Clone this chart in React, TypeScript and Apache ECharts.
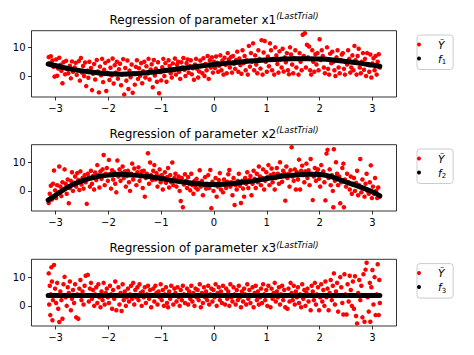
import React, { useEffect, useRef } from "react";
import * as echarts from "echarts";

// ---------- data ----------
const xTicks = [-3, -2, -1, 0, 1, 2, 3];
const yTicks = [0, 10];
const paramNames = ["x1", "x2", "x3"];

// scatter observations  Ỹ  for parameter x1
const obs1: number[][] = [
  [-3.13,6.6],[-3.11,4.5],[-3.09,6.9],[-3.06,5.4],[-3.04,3.2],
  [-3.02,-0.2],[-2.99,5.8],[-2.97,0.1],[-2.95,2.6],[-2.93,6.4],
  [-2.91,3.9],[-2.89,1.8],[-2.87,-2.5],[-2.85,4.8],[-2.82,0.6],
  [-2.8,5.3],[-2.78,2.4],[-2.76,1.0],[-2.73,3.6],[-2.71,-0.8],
  [-2.69,5.1],[-2.67,1.5],[-2.64,3.0],[-2.62,4.6],[-2.6,0.4],
  [-2.58,2.1],[-2.56,5.2],[-2.54,-1.6],[-2.52,6.3],[-2.5,1.2],
  [-2.48,3.5],[-2.46,0.0],[-2.44,4.7],[-2.42,-3.5],[-2.4,1.9],
  [-2.38,-0.6],[-2.36,5.0],[-2.33,2.8],[-2.31,-4.9],[-2.29,0.8],
  [-2.27,4.2],[-2.25,-1.2],[-2.22,5.6],[-2.2,1.6],[-2.18,-5.7],
  [-2.16,3.3],[-2.14,0.3],[-2.12,6.0],[-2.1,-2.1],[-2.08,2.2],
  [-2.06,4.6],[-2.04,-5.2],[-2.02,1.1],[-2.0,5.3],[-1.98,-1.4],
  [-1.96,2.9],[-1.94,0.2],[-1.92,6.1],[-1.9,-2.6],[-1.88,3.8],
  [-1.86,1.2],[-1.84,5.0],[-1.82,-0.9],[-1.8,2.4],[-1.78,4.3],
  [-1.76,-3.2],[-1.74,0.6],[-1.72,5.9],[-1.7,-6.4],[-1.68,2.8],
  [-1.66,-1.6],[-1.64,5.4],[-1.62,-4.5],[-1.6,1.9],[-1.58,-0.4],
  [-1.56,4.0],[-1.54,-5.8],[-1.52,1.0],[-1.5,-3.0],[-1.48,3.2],
  [-1.46,5.5],[-1.44,-1.0],[-1.42,2.7],[-1.4,0.1],[-1.38,4.5],
  [-1.36,-2.5],[-1.34,1.7],[-1.32,5.0],[-1.3,-0.5],[-1.28,3.4],
  [-1.26,0.9],[-1.24,6.0],[-1.22,-1.2],[-1.2,2.3],[-1.18,4.1],
  [-1.16,-3.9],[-1.14,5.6],[-1.12,0.2],[-1.1,2.6],[-1.08,-2.0],
  [-1.06,4.8],[-1.04,-6.0],[-1.02,1.4],[-1.0,-1.5],[-0.98,3.1],
  [-0.96,6.0],[-0.94,0.0],[-0.92,4.5],[-0.9,-2.0],[-0.88,2.0],
  [-0.86,5.5],[-0.84,3.5],[-0.82,1.0],[-0.8,-0.5],[-0.78,4.4],
  [-0.76,2.0],[-0.74,6.1],[-0.72,0.5],[-0.7,3.9],[-0.68,5.0],
  [-0.66,1.5],[-0.64,-1.0],[-0.62,4.8],[-0.6,3.0],[-0.58,6.3],
  [-0.56,2.2],[-0.54,0.0],[-0.52,4.5],[-0.5,5.8],[-0.48,1.2],
  [-0.46,3.4],[-0.44,5.5],[-0.42,0.6],[-0.4,2.7],[-0.38,-1.3],
  [-0.36,4.0],[-0.34,6.0],[-0.32,2.5],[-0.3,-0.5],[-0.28,1.6],
  [-0.26,5.4],[-0.24,3.5],[-0.22,1.0],[-0.2,6.2],[-0.18,0.0],
  [-0.16,4.2],[-0.14,2.0],[-0.12,7.0],[-0.1,-1.0],[-0.08,5.5],
  [-0.06,3.0],[-0.04,6.5],[-0.02,1.2],[0.0,5.0],[0.02,2.8],
  [0.04,6.8],[0.06,4.6],[0.08,1.5],[0.1,3.6],[0.12,7.2],
  [0.14,2.0],[0.16,5.4],[0.18,0.5],[0.2,6.4],[0.22,3.9],
  [0.24,1.0],[0.26,8.0],[0.28,5.8],[0.3,3.0],[0.32,6.6],
  [0.34,1.2],[0.36,7.0],[0.38,4.3],[0.4,2.5],[0.42,5.6],
  [0.44,8.5],[0.46,1.5],[0.48,6.1],[0.5,3.8],[0.52,0.8],
  [0.54,9.0],[0.56,4.5],[0.58,7.0],[0.6,2.0],[0.62,5.5],
  [0.64,0.5],[0.66,10.5],[0.68,3.3],[0.7,8.0],[0.72,5.0],
  [0.74,11.4],[0.76,2.0],[0.78,7.2],[0.8,4.0],[0.82,1.0],
  [0.84,9.0],[0.86,6.0],[0.88,2.6],[0.9,12.5],[0.92,0.5],
  [0.94,8.2],[0.96,12.2],[0.98,5.0],[1.0,1.5],[1.02,6.8],
  [1.04,3.4],[1.06,11.4],[1.08,9.0],[1.1,2.0],[1.12,6.0],
  [1.14,0.5],[1.16,10.0],[1.18,7.2],[1.2,4.2],[1.22,1.2],
  [1.24,8.6],[1.26,5.8],[1.28,3.0],[1.3,9.5],[1.32,1.6],
  [1.34,6.5],[1.36,4.8],[1.38,8.0],[1.4,2.0],[1.42,0.6],
  [1.44,10.0],[1.46,7.5],[1.48,4.0],[1.5,1.0],[1.52,6.2],
  [1.54,9.0],[1.56,3.0],[1.58,6.0],[1.6,0.5],[1.62,8.0],
  [1.64,5.0],[1.66,2.0],[1.68,14.4],[1.7,7.0],[1.72,14.9],
  [1.74,3.0],[1.76,10.9],[1.78,6.5],[1.8,10.3],[1.82,2.0],
  [1.84,0.5],[1.86,9.0],[1.88,5.0],[1.9,1.5],[1.92,7.6],
  [1.94,4.0],[1.96,8.0],[1.98,2.0],[2.0,12.8],[2.02,5.6],
  [2.04,9.0],[2.06,7.0],[2.08,3.0],[2.1,1.0],[2.12,6.0],
  [2.14,10.0],[2.16,2.5],[2.18,0.5],[2.2,7.8],[2.22,4.5],
  [2.24,8.5],[2.26,5.0],[2.28,2.0],[2.3,0.0],[2.32,6.5],
  [2.34,9.0],[2.36,3.0],[2.38,1.0],[2.4,5.6],[2.42,7.5],
  [2.44,8.0],[2.46,2.5],[2.48,0.5],[2.5,5.0],[2.52,4.0],
  [2.54,9.0],[2.56,6.0],[2.58,1.2],[2.6,3.0],[2.62,7.2],
  [2.64,2.0],[2.66,10.5],[2.68,5.5],[2.7,0.5],[2.72,7.0],
  [2.74,9.5],[2.76,3.0],[2.78,1.0],[2.8,5.0],[2.82,8.0],
  [2.84,2.2],[2.86,6.0],[2.88,0.0],[2.9,8.0],[2.92,4.0],
  [2.94,1.5],[2.96,7.5],[2.98,-0.5],[3.0,4.4],[3.02,6.2],
  [3.04,2.0],[3.06,7.0],[3.08,0.5],[3.1,5.0],[3.12,7.6],[3.14,3.0],
];

// scatter observations for parameter x2
const obs2: number[][] = [
  [-3.13,-4.2],[-3.11,-1.0],[-3.09,1.8],[-3.07,-3.0],[-3.05,2.5],
  [-3.03,7.1],[-3.01,0.2],[-2.99,-2.5],[-2.97,2.0],[-2.95,-0.5],
  [-2.93,8.5],[-2.91,1.5],[-2.89,-1.8],[-2.87,3.0],[-2.85,0.5],
  [-2.83,7.5],[-2.81,2.5],[-2.79,-1.0],[-2.77,4.0],[-2.75,-4.3],
  [-2.73,1.0],[-2.71,3.5],[-2.69,6.5],[-2.67,0.0],[-2.65,2.8],
  [-2.63,5.0],[-2.61,1.5],[-2.59,6.2],[-2.57,3.8],[-2.55,0.3],
  [-2.53,6.8],[-2.51,2.2],[-2.49,4.5],[-2.47,0.8],[-2.45,5.5],
  [-2.43,3.0],[-2.41,-4.5],[-2.39,6.0],[-2.37,4.8],[-2.35,1.5],
  [-2.33,7.0],[-2.31,2.5],[-2.29,5.2],[-2.27,0.5],[-2.25,6.4],
  [-2.23,3.8],[-2.21,9.0],[-2.19,5.5],[-2.17,1.2],[-2.15,6.8],
  [-2.13,4.2],[-2.11,7.5],[-2.09,12.5],[-2.07,2.0],[-2.05,6.0],
  [-2.03,8.0],[-2.01,3.5],[-1.99,10.8],[-1.97,5.8],[-1.95,0.8],
  [-1.93,7.2],[-1.91,4.0],[-1.89,6.5],[-1.87,2.5],[-1.85,-0.5],
  [-1.83,10.6],[-1.81,5.0],[-1.79,7.5],[-1.77,3.5],[-1.75,6.2],
  [-1.73,8.5],[-1.71,4.5],[-1.69,6.8],[-1.67,1.5],[-1.65,5.2],
  [-1.63,7.0],[-1.61,3.0],[-1.59,0.0],[-1.57,6.0],[-1.55,9.5],
  [-1.53,4.0],[-1.51,7.8],[-1.49,5.5],[-1.47,2.0],[-1.45,6.5],
  [-1.43,8.2],[-1.41,3.5],[-1.39,5.0],[-1.37,6.8],[-1.35,1.0],
  [-1.33,7.0],[-1.31,-2.0],[-1.29,4.5],[-1.27,6.0],[-1.25,13.1],
  [-1.23,2.5],[-1.21,9.9],[-1.19,5.5],[-1.17,3.8],[-1.15,7.0],
  [-1.13,9.0],[-1.11,4.0],[-1.09,6.2],[-1.07,1.5],[-1.05,5.0],
  [-1.03,7.5],[-1.01,3.0],[-0.99,5.5],[-0.97,0.5],[-0.95,4.5],
  [-0.93,6.5],[-0.91,2.8],[-0.89,4.8],[-0.87,8.0],[-0.85,1.2],
  [-0.83,5.5],[-0.81,3.0],[-0.79,9.9],[-0.77,2.0],[-0.75,4.5],
  [-0.73,6.0],[-0.71,1.5],[-0.69,3.8],[-0.67,5.0],[-0.65,0.0],
  [-0.63,-3.5],[-0.61,4.5],[-0.59,-5.7],[-0.57,2.2],[-0.55,5.8],
  [-0.53,3.5],[-0.51,1.0],[-0.49,4.8],[-0.47,2.5],[-0.45,0.2],
  [-0.43,6.0],[-0.41,2.0],[-0.39,-1.0],[-0.37,3.5],[-0.35,1.2],
  [-0.33,4.2],[-0.31,0.5],[-0.29,2.8],[-0.27,7.2],[-0.25,1.5],
  [-0.23,3.5],[-0.21,-1.5],[-0.19,2.0],[-0.17,4.8],[-0.15,0.8],
  [-0.13,2.5],[-0.11,5.5],[-0.09,1.0],[-0.07,7.3],[-0.05,-6.0],
  [-0.03,3.2],[-0.01,0.0],[0.01,2.0],[0.03,4.5],[0.05,-2.0],
  [0.07,1.5],[0.09,3.8],[0.11,6.2],[0.13,0.5],[0.15,2.5],
  [0.17,-0.5],[0.19,4.0],[0.21,2.0],[0.23,1.0],[0.25,3.2],
  [0.27,5.8],[0.29,7.3],[0.31,1.5],[0.33,3.0],[0.35,-1.5],
  [0.37,4.5],[0.39,-4.9],[0.41,2.0],[0.43,0.5],[0.45,3.5],
  [0.47,6.0],[0.49,1.8],[0.51,-4.2],[0.53,3.5],[0.55,0.8],
  [0.57,-2.0],[0.59,4.5],[0.61,2.5],[0.63,6.5],[0.65,1.0],
  [0.67,3.8],[0.69,5.2],[0.71,-1.5],[0.73,2.5],[0.75,7.0],
  [0.77,4.2],[0.79,1.0],[0.81,6.0],[0.83,3.0],[0.85,8.5],
  [0.87,5.0],[0.89,2.0],[0.91,4.5],[0.93,7.5],[0.95,0.5],
  [0.97,3.5],[0.99,6.5],[1.01,4.8],[1.03,9.0],[1.05,2.0],
  [1.07,5.5],[1.09,7.8],[1.11,3.0],[1.13,6.0],[1.15,0.5],
  [1.17,4.5],[1.19,8.0],[1.21,6.0],[1.23,2.5],[1.25,10.0],
  [1.27,5.5],[1.29,3.2],[1.31,7.0],[1.33,6.2],[1.35,-3.4],
  [1.37,8.5],[1.39,4.5],[1.41,6.0],[1.43,1.5],[1.45,7.2],
  [1.47,15.2],[1.49,5.0],[1.51,3.5],[1.53,7.5],[1.55,0.5],
  [1.57,6.5],[1.59,4.0],[1.61,10.9],[1.63,0.5],[1.65,7.0],
  [1.67,8.8],[1.69,5.5],[1.71,3.0],[1.73,6.8],[1.75,9.5],
  [1.77,4.5],[1.79,7.2],[1.81,2.0],[1.83,11.1],[1.85,6.0],
  [1.87,-3.2],[1.89,5.0],[1.91,8.0],[1.93,3.5],[1.95,6.5],
  [1.97,7.5],[1.99,4.2],[2.01,1.5],[2.03,9.0],[2.05,5.8],
  [2.07,6.8],[2.09,3.0],[2.11,-3.3],[2.13,13.0],[2.15,14.3],
  [2.17,4.5],[2.19,7.5],[2.21,2.0],[2.23,5.5],[2.25,0.0],
  [2.26,-5.7],[2.27,14.5],[2.29,3.5],[2.31,10.0],[2.33,6.0],
  [2.35,2.0],[2.37,5.0],[2.39,-4.3],[2.41,3.0],[2.43,8.0],
  [2.45,9.5],[2.46,-5.7],[2.48,4.0],[2.5,1.5],[2.52,6.0],
  [2.55,3.0],[2.57,0.5],[2.59,5.0],[2.61,-1.0],[2.63,2.5],
  [2.65,4.5],[2.67,0.0],[2.69,2.8],[2.71,7.0],[2.73,-1.5],
  [2.75,2.0],[2.77,11.1],[2.79,-0.5],[2.81,4.0],[2.83,0.8],
  [2.85,-2.0],[2.87,2.5],[2.89,6.0],[2.91,0.0],[2.93,-1.0],
  [2.95,3.0],[2.97,8.9],[2.99,-2.5],[3.01,1.5],[3.03,-1.0],
  [3.05,4.5],[3.07,0.0],[3.09,-2.5],[3.11,1.2],[3.13,-1.5],[3.14,-2.0],
];

// scatter observations for parameter x3
const obs3: number[][] = [
  [-3.13,11.3],[-3.12,0.5],[-3.11,7.0],[-3.1,-3.2],[-3.09,4.0],[-3.08,13.4],[-3.07,8.5],[-3.06,-5.0],[-3.05,2.0],
  [-3.03,14.2],[-3.01,6.0],[-2.99,1.0],[-2.97,8.0],[-2.95,-1.0],
  [-2.93,-5.6],[-2.91,5.0],[-2.89,2.0],[-2.87,-4.5],[-2.85,7.5],
  [-2.83,10.1],[-2.81,3.0],[-2.79,0.0],[-2.77,6.5],[-2.75,4.5],
  [-2.73,8.5],[-2.71,-1.5],[-2.69,2.5],[-2.67,5.5],[-2.65,1.0],
  [-2.63,7.5],[-2.61,-4.0],[-2.59,4.0],[-2.57,-4.5],[-2.55,6.0],
  [-2.53,9.0],[-2.51,2.0],[-2.49,5.0],[-2.47,0.5],[-2.45,7.0],
  [-2.43,10.5],[-2.41,3.5],[-2.39,10.8],[-2.37,1.5],[-2.35,6.0],
  [-2.33,8.0],[-2.31,2.5],[-2.29,5.5],[-2.27,0.0],[-2.25,4.0],
  [-2.23,6.5],[-2.21,1.0],[-2.19,7.5],[-2.17,3.0],[-2.15,-0.5],
  [-2.13,5.0],[-2.11,2.0],[-2.09,8.0],[-2.07,0.5],[-2.05,4.5],
  [-2.03,6.0],[-2.01,3.0],[-1.99,1.0],[-1.97,7.0],[-1.95,4.0],
  [-1.93,-1.0],[-1.91,5.5],[-1.89,2.5],[-1.87,8.5],[-1.85,-1.5],
  [-1.83,3.5],[-1.81,6.5],[-1.79,0.5],[-1.77,4.5],[-1.75,-1.8],
  [-1.73,7.5],[-1.71,2.0],[-1.69,5.0],[-1.67,0.0],[-1.65,3.0],
  [-1.63,6.0],[-1.61,1.5],[-1.59,4.0],[-1.57,7.0],[-1.55,2.5],
  [-1.53,8.0],[-1.51,0.5],[-1.49,5.5],[-1.47,3.0],[-1.45,6.5],
  [-1.43,2.0],[-1.41,7.5],[-1.39,4.5],[-1.37,0.0],[-1.35,5.0],
  [-1.33,3.0],[-1.31,6.5],[-1.29,1.0],[-1.27,4.0],[-1.25,7.0],
  [-1.23,2.5],[-1.21,5.5],[-1.19,-0.5],[-1.17,3.5],[-1.15,6.0],
  [-1.13,1.5],[-1.11,7.0],[-1.09,4.5],[-1.07,0.5],[-1.05,5.0],
  [-1.03,3.0],[-1.01,7.5],[-0.99,2.0],[-0.97,5.5],[-0.95,0.0],
  [-0.93,4.0],[-0.91,6.5],[-0.89,1.0],[-0.87,-0.5],[-0.85,5.0],
  [-0.83,2.5],[-0.81,7.0],[-0.79,3.5],[-0.77,0.5],[-0.75,6.0],
  [-0.73,4.5],[-0.71,1.5],[-0.69,6.5],[-0.67,3.0],[-0.65,0.0],
  [-0.63,5.5],[-0.61,2.0],[-0.59,7.0],[-0.57,4.0],[-0.55,1.0],
  [-0.53,3.5],[-0.51,6.0],[-0.49,0.5],[-0.47,5.0],[-0.45,2.5],
  [-0.43,7.0],[-0.41,1.5],[-0.39,4.5],[-0.37,0.0],[-0.35,6.0],
  [-0.33,3.0],[-0.31,5.5],[-0.29,2.0],[-0.27,7.5],[-0.25,-0.5],
  [-0.23,4.5],[-0.21,1.0],[-0.19,6.5],[-0.17,3.0],[-0.15,5.0],
  [-0.13,2.0],[-0.11,7.0],[-0.09,0.5],[-0.07,4.0],[-0.05,6.0],
  [-0.03,1.5],[-0.01,5.5],[0.01,3.0],[0.03,7.5],[0.05,0.0],
  [0.07,4.5],[0.09,6.5],[0.11,2.0],[0.13,5.0],[0.15,1.0],
  [0.17,7.0],[0.19,3.5],[0.21,0.5],[0.23,6.0],[0.25,2.5],
  [0.27,5.0],[0.29,0.0],[0.31,7.5],[0.33,3.0],[0.35,1.5],
  [0.37,6.5],[0.39,4.0],[0.41,0.5],[0.43,5.5],[0.45,2.0],
  [0.47,7.0],[0.49,3.0],[0.51,-0.5],[0.53,5.0],[0.55,1.5],
  [0.57,6.0],[0.59,4.0],[0.61,0.5],[0.63,7.5],[0.65,2.5],
  [0.67,5.5],[0.69,1.0],[0.71,3.5],[0.73,6.5],[0.75,-0.5],
  [0.77,4.5],[0.79,7.0],[0.81,2.0],[0.83,5.0],[0.85,0.5],
  [0.87,3.0],[0.89,6.0],[0.91,1.0],[0.93,7.5],[0.95,4.0],
  [0.97,2.0],[0.99,5.5],[1.01,0.0],[1.03,7.0],[1.05,3.5],
  [1.07,-0.5],[1.09,6.0],[1.11,2.5],[1.13,4.5],[1.15,8.0],
  [1.17,1.5],[1.19,5.0],[1.21,3.0],[1.23,6.5],[1.25,0.5],
  [1.27,4.0],[1.29,7.0],[1.31,2.0],[1.33,5.5],[1.35,-0.5],
  [1.37,3.5],[1.39,-1.0],[1.41,6.0],[1.43,1.5],[1.45,8.0],
  [1.47,4.5],[1.49,2.0],[1.51,7.0],[1.53,0.5],[1.55,5.0],
  [1.57,3.0],[1.59,6.5],[1.61,1.0],[1.63,4.0],[1.65,-0.5],
  [1.67,7.5],[1.69,2.5],[1.71,5.5],[1.73,0.0],[1.75,4.5],
  [1.77,6.0],[1.79,1.5],[1.81,3.5],[1.83,-1.5],[1.85,7.0],
  [1.87,5.0],[1.89,2.0],[1.91,8.0],[1.93,0.5],[1.95,4.0],
  [1.97,6.5],[1.99,-1.5],[2.01,3.0],[2.03,7.5],[2.05,1.5],
  [2.07,5.5],[2.09,0.0],[2.11,8.5],[2.13,3.0],[2.15,6.0],
  [2.17,-1.5],[2.19,4.5],[2.21,9.0],[2.23,2.0],[2.25,7.0],
  [2.27,11.3],[2.29,0.5],[2.31,5.0],[2.33,8.0],[2.35,-2.0],
  [2.37,3.5],[2.39,10.0],[2.41,6.5],[2.43,1.0],[2.45,-3.0],
  [2.47,11.0],[2.49,4.0],[2.51,-3.0],[2.53,7.5],[2.55,1.5],
  [2.57,10.5],[2.59,5.5],[2.61,0.0],[2.63,8.5],[2.65,-1.0],
  [2.67,10.3],[2.69,-3.5],[2.71,-6.1],[2.73,4.5],[2.75,9.0],
  [2.77,2.0],[2.79,7.0],[2.81,-4.0],[2.83,11.0],[2.85,-5.5],
  [2.87,12.6],[2.89,15.0],[2.91,3.0],[2.93,-2.0],[2.95,8.0],
  [2.96,-5.5],[2.98,6.5],[3.0,12.5],[3.02,0.5],[3.04,10.0],
  [3.06,-3.2],[3.08,4.0],[3.1,14.5],[3.12,-3.2],[3.13,9.0],[3.14,1.0],
];

// fitted regression curves f1, f2, f3
const fit1: number[][] = [
  [-3.14,4.2],[-2.75,2.6],[-2.5,1.8],[-2.25,1.2],[-2.0,0.8],[-1.75,0.65],[-1.5,0.8],
  [-1.25,1.2],[-1.0,1.7],[-0.75,2.3],[-0.5,2.9],[-0.25,3.5],[0.0,4.0],[0.25,4.5],
  [0.5,4.9],[0.75,5.3],[1.0,5.6],[1.25,5.85],[1.5,6.0],[1.75,6.0],[2.0,5.9],
  [2.25,5.6],[2.5,5.1],[2.75,4.5],[3.0,3.8],[3.14,3.4],
];
const fit2: number[][] = [
  [-3.14,-3.2],[-3.0,-1.5],[-2.75,1.5],[-2.5,3.5],[-2.25,4.8],[-2.0,5.5],[-1.8,5.8],
  [-1.5,5.5],[-1.25,5.0],[-1.0,4.3],[-0.75,3.5],[-0.5,2.9],[-0.25,2.4],[0.0,2.2],
  [0.25,2.4],[0.5,2.9],[0.75,3.5],[1.0,4.3],[1.25,5.0],[1.5,5.5],[1.8,5.8],
  [2.0,5.7],[2.25,4.8],[2.5,3.1],[2.75,1.5],[3.0,-0.3],[3.14,-1.7],
];
const fit3: number[][] = [[-3.14,3.6],[-1.5,3.6],[0,3.6],[1.5,3.6],[3.14,3.6]];

const observations = [obs1, obs2, obs3];
const fits = [fit1, fit2, fit3];
const yRanges = [[-7.3, 15.8], [-7.0, 16.1], [-7.0, 16.2]];
const xRange = [-3.456, 3.456];

// ---------- layout ----------
const FONT = "DejaVu Sans";
const gridLeft = 31.5;
const gridWidth = 365;
const gridTops = [30.7, 144.7, 259.3];
const gridHeights = [66.3, 66.3, 66.7];

const fmtMinus = (v: number) => (v < 0 ? "\u2212" + String(-v) : String(v));

export default function App() {
  const ref = useRef<HTMLDivElement>(null);

  useEffect(() => {
    if (!ref.current) return;
    const chart = echarts.init(ref.current, null, { renderer: "svg" });

    const grids = gridTops.map((t, i) => ({
      left: gridLeft,
      top: t,
      width: gridWidth,
      height: gridHeights[i],
      show: true,
      borderColor: "#000",
      borderWidth: 0.8,
      backgroundColor: "transparent",
    }));

    const axisCommon = (ticks: number[]) => ({
      axisLine: { show: false, onZero: false },
      splitLine: { show: false },
      axisTick: {
        show: true,
        length: 3.5,
        customValues: ticks,
        lineStyle: { color: "#000", width: 0.8 },
      },
      axisLabel: {
        customValues: ticks,
        formatter: fmtMinus,
        color: "#000",
        fontFamily: FONT,
        fontSize: 10,
        margin: 6,
      },
    });

    const xAxes = gridTops.map((_, i) => ({
      type: "value",
      gridIndex: i,
      min: xRange[0],
      max: xRange[1],
      ...axisCommon(xTicks),
    }));

    const yAxes = gridTops.map((_, i) => ({
      type: "value",
      gridIndex: i,
      min: yRanges[i][0],
      max: yRanges[i][1],
      ...axisCommon(yTicks),
    }));

    const titles = paramNames.map((p, i) => ({
      text: `{a|Regression of parameter ${p}}{b|(LastTrial)}`,
      left: gridLeft + gridWidth / 2,
      textAlign: "center",
      top: gridTops[i] - 19,
      padding: 0,
      textStyle: {
        fontWeight: "normal",
        rich: {
          a: { fontFamily: FONT, fontSize: 12, fontWeight: "normal", color: "#000", lineHeight: 16 },
          b: {
            fontFamily: FONT,
            fontSize: 8.5,
            fontStyle: "italic",
            fontWeight: "normal",
            color: "#000",
            verticalAlign: "top",
            lineHeight: 10,
          },
        },
      },
    }));

    const legends = paramNames.map((_, i) => ({
      orient: "vertical",
      left: 417,
      top: gridTops[i] + 4.3,
      padding: [4, 7, 4, 0],
      itemWidth: 28,
      itemHeight: 4,
      itemGap: 3,
      itemStyle: { borderWidth: 0 },
      borderColor: "#cccccc",
      borderWidth: 1,
      borderRadius: 3,
      backgroundColor: "rgba(255,255,255,0.8)",
      selectedMode: false,
      data: [
        { name: `Y${i + 1}`, icon: "circle" },
        { name: `f${i + 1}`, icon: "circle" },
      ],
      formatter: (name: string) =>
        name[0] === "Y" ? "{i|\u1EF8}" : `{i|f}{s|${name.slice(1)}}`,
      textStyle: {
        color: "#000",
        fontFamily: FONT,
        fontSize: 10,
        rich: {
          i: { fontFamily: FONT, fontSize: 10.5, fontStyle: "italic", color: "#000", lineHeight: 14 },
          s: { fontFamily: FONT, fontSize: 7, color: "#000", verticalAlign: "bottom", lineHeight: 14 },
        },
      },
    }));

    const series: any[] = [];
    observations.forEach((obs, i) => {
      series.push({
        name: `Y${i + 1}`,
        type: "scatter",
        xAxisIndex: i,
        yAxisIndex: i,
        data: obs,
        symbol: "circle",
        symbolSize: 4.5,
        itemStyle: { color: "#ff0000", opacity: 1, borderWidth: 0 },
        z: 2,
      });
    });
    fits.forEach((fit, i) => {
      series.push({
        name: `f${i + 1}`,
        type: "line",
        xAxisIndex: i,
        yAxisIndex: i,
        data: fit,
        smooth: 0.4,
        showSymbol: false,
        itemStyle: { color: "#000", borderWidth: 0 },
        lineStyle: { color: "#000", width: 5, cap: "round", join: "round" },
        z: 3,
      });
    });

    chart.setOption({
      animation: false,
      backgroundColor: "#fff",
      title: titles,
      legend: legends,
      grid: grids,
      xAxis: xAxes,
      yAxis: yAxes,
      series,
    });

    return () => chart.dispose();
  }, []);

  return (
    <div
      ref={ref}
      style={{ position: "absolute", left: 0, top: 0, width: 474, height: 355 }}
    />
  );
}
